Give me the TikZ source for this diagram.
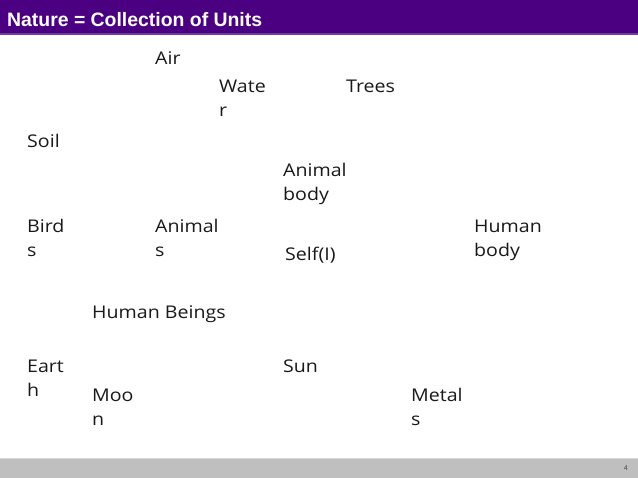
\documentclass[tikz,border=0pt]{standalone}
\usepackage{fontspec}
\setmainfont{Open Sans}
\newfontfamily\unitfont[FakeStretch=1.12]{Open Sans}
\newfontfamily\titlefont{Liberation Sans}
\definecolor{titlepurple}{RGB}{75,0,130}
\definecolor{titleline}{RGB}{110,60,160}
\definecolor{footgray}{RGB}{191,191,191}
\definecolor{footline}{RGB}{215,215,215}
\definecolor{pagenum}{RGB}{70,70,70}
\begin{document}
\begin{tikzpicture}[x=1pt,y=-1pt,
  unit/.style={anchor=base west,inner sep=0pt,align=left,
    font=\unitfont\fontsize{17.5}{23.5}\selectfont,text=black!90}]
\useasboundingbox (0,0) rectangle (638,478);
\fill[white] (0,0) rectangle (638,478);
% title bar
\fill[titlepurple] (0,0) rectangle (638,33);
\fill[titleline] (0,33) rectangle (638,35);
\node[anchor=base west,inner sep=0pt,text=white,
  font=\titlefont\bfseries\fontsize{19.4}{21}\selectfont] (title) at (7,27) {Nature = Collection of Units};
% footer
\fill[footgray] (0,458) rectangle (638,478);
\fill[footline] (0,458) rectangle (638,459.5);
\node[anchor=base east,inner sep=0pt,text=pagenum,
  font=\titlefont\fontsize{7}{8}\selectfont] (page) at (628,471) {4};
% units (base anchor = baseline of the last line)
\node[unit] (air) at (155,65) {Air};
\node[unit] (water) at (219,116.5) {Wate\\r};
\node[unit] (trees) at (346,93) {Trees};
\node[unit] (soil) at (27,148) {Soil};
\node[unit] (animalbody) at (283,200.5) {Animal\\body};
\node[unit] (birds) at (27,256.5) {Bird\\s};
\node[unit] (animals) at (155,256.5) {Animal\\s};
\node[unit] (self) at (285,261) {Self(I)};
\node[unit] (humanbody) at (474,256.5) {Human\\body};
\node[unit] (humanbeings) at (92,319) {Human Beings};
\node[unit] (earth) at (27,396.5) {Eart\\h};
\node[unit] (sun) at (283,373) {Sun};
\node[unit] (moon) at (92,425.5) {Moo\\n};
\node[unit] (metals) at (411,425.5) {Metal\\s};
\end{tikzpicture}
\end{document}
